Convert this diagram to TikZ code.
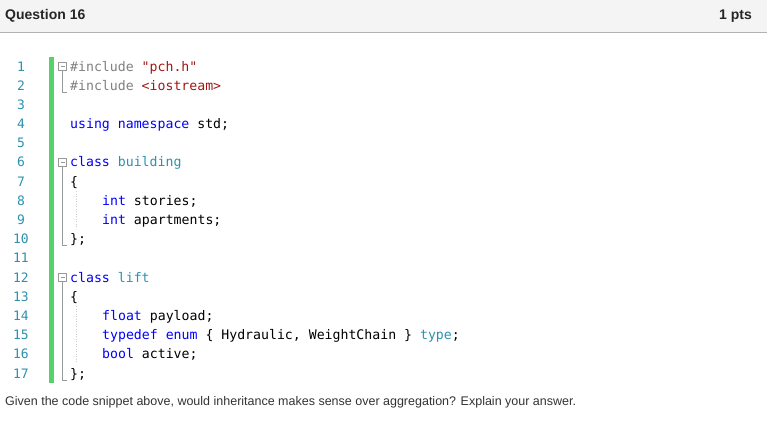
\documentclass[tikz,border=0pt]{standalone}
\usepackage{fontspec}
\setmainfont{Liberation Sans}
\newfontfamily\codefont{DejaVu Sans Mono}
\definecolor{lnum}{HTML}{2B91AF}
\definecolor{kw}{HTML}{0000FF}
\definecolor{cls}{HTML}{2B91AF}
\definecolor{str}{HTML}{A31515}
\definecolor{pp}{HTML}{808080}
\definecolor{bar}{HTML}{57D26A}
\definecolor{hdr}{HTML}{F4F4F4}
\tikzset{
  code/.style={anchor=base west,inner sep=0pt,font=\codefont\fontsize{13.2}{15}\selectfont},
  num/.style={anchor=base,inner sep=0pt,font=\codefont\fontsize{13}{15}\selectfont,text=lnum},
  fold/.style={draw=pp!80,line width=0.7pt},
}
\newcommand{\K}[1]{\textcolor{kw}{#1}}
\newcommand{\C}[1]{\textcolor{cls}{#1}}
\begin{document}
\begin{tikzpicture}[x=1pt,y=-1pt]
\useasboundingbox (0,0) rectangle (767,420);
\fill[hdr] (0,0) rectangle (767,33);
\draw[gray!60,line width=1pt] (0,33) -- (767,33);
\node[anchor=base west,inner sep=0pt,font=\bfseries\fontsize{14}{16}\selectfont,text=black!85] (q) at (5,20) {Question 16};
\node[anchor=base east,inner sep=0pt,font=\bfseries\fontsize{14}{16}\selectfont,text=black!85] (p) at (752,20) {1 pts};
\fill[bar] (49,57) rectangle (54,383);
\foreach \i in {1,...,17} {
  \node[num] (n\i) at (21,{66+(\i-1)*19.19+5}) {\i};
}
\def\Y#1{{66+(#1-1)*19.19+5}}
\node[code] (c1) at (70,\Y1) {\textcolor{pp}{\#include} \textcolor{str}{"pch.h"}};
\node[code] (c2) at (70,\Y2) {\textcolor{pp}{\#include} \textcolor{str}{<iostream>}};
\node[code] (c4) at (70,\Y4) {\K{using} \K{namespace} std;};
\node[code] (c6) at (70,\Y6) {\K{class} \C{building}};
\node[code] (c7) at (70,\Y7) {\{};
\node[code] (c8) at (102,\Y8) {\K{int} stories;};
\node[code] (c9) at (102,\Y9) {\K{int} apartments;};
\node[code] (c10) at (70,\Y{10}) {\};};
\node[code] (c12) at (70,\Y{12}) {\K{class} \C{lift}};
\node[code] (c13) at (70,\Y{13}) {\{};
\node[code] (c14) at (102,\Y{14}) {\K{float} payload;};
\node[code] (c15) at (102,\Y{15}) {\K{typedef} \K{enum} \{ Hydraulic, WeightChain \} \C{type};};
\node[code] (c16) at (102,\Y{16}) {\K{bool} active;};
\node[code] (c17) at (70,\Y{17}) {\};};
\foreach \a/\b in {1/2,6/10,12/17} {
  \draw[fold] (58.5,{66+(\a-1)*19.19-4}) rectangle (66.5,{66+(\a-1)*19.19+4});
  \draw[fold] (60.5,{66+(\a-1)*19.19}) -- (64.5,{66+(\a-1)*19.19});
  \draw[fold] (62.5,{66+(\a-1)*19.19+4}) -- (62.5,{66+(\b-1)*19.19+7}) -- (67,{66+(\b-1)*19.19+7});
}
\draw[gray!40,dash pattern=on 1pt off 1.5pt] (76,{66+7*19.19-9}) -- (76,{66+8*19.19+9});
\draw[gray!40,dash pattern=on 1pt off 1.5pt] (76,{66+13*19.19-9}) -- (76,{66+15*19.19+9});
\node[anchor=base west,inner sep=0pt,font=\fontsize{12.5}{14}\selectfont,text=black!80] (t) at (5,405) {Given the code snippet above, would inheritance makes sense over aggregation? Explain your answer.};
\end{tikzpicture}
\end{document}
